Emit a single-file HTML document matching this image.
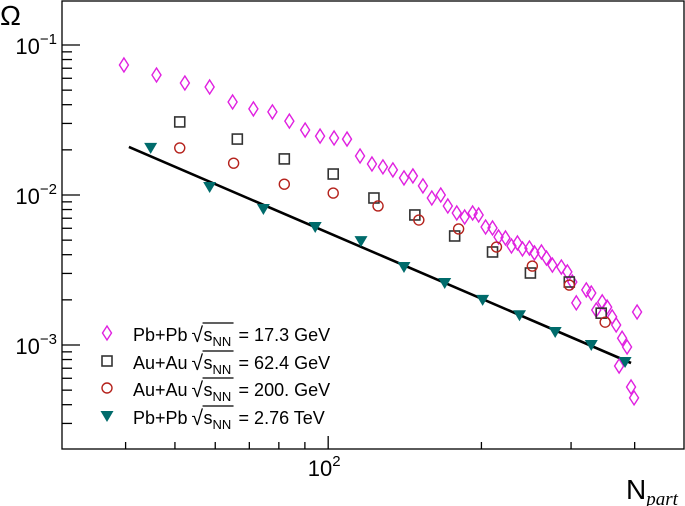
<!DOCTYPE html>
<html><head><meta charset="utf-8"><style>
html,body{margin:0;padding:0;background:#fff;}
svg{display:block;font-family:"Liberation Sans",sans-serif;}
</style></head><body>
<svg id="chart" width="685" height="506" viewBox="0 0 685 506">
<rect x="62" y="1" width="622" height="448" fill="none" stroke="#000" stroke-width="1.3"/>
<g id="axes"></g>
<g id="series"></g>
<text x="0" y="25" font-size="28">Ω</text>
<text x="626" y="499" font-size="28">N<tspan font-family="Liberation Serif" font-style="italic" font-size="19" dy="6">part</tspan></text>
<g id="legend"></g>
</svg>
<script>
const diamondN=[39.7,46.0,52.3,58.5,64.9,71.3,77.7,83.9,90.1,96.4,102.7,108.9,115.5,121.9,128.1,134.0,140.9,146.7,153.5,159.8,166.4,171.8,178.9,185.4,192.2,197.5,203.8,210.3,216.1,223.0,229.1,235.4,240.8,248.5,254.2,262.4,268.4,275.7,287.1,295.0,301.7,307.2,321.4,328.7,336.2,345.4,353.2,361.3,367.9,372.8,377.9,386.5,393.5,398.9,404.4];
const diamondOmega=[0.0736,0.0631,0.0558,0.0525,0.0417,0.0375,0.0358,0.0311,0.0271,0.0247,0.0240,0.0236,0.0182,0.0161,0.0154,0.0147,0.0130,0.0134,0.0115,0.00955,0.0100,0.00845,0.00759,0.00714,0.00759,0.00736,0.00612,0.00603,0.00525,0.00517,0.00457,0.00479,0.00437,0.00443,0.00411,0.00417,0.00380,0.00341,0.00331,0.00307,0.00263,0.00191,0.00233,0.00222,0.00171,0.00194,0.00179,0.00154,0.00136,0.000724,0.00111,0.00097,0.000525,0.000444,0.00166];
const squareN=[51.1,66.3,82.0,102.3,123.0,148.0,177.2,210.3,249.6,297.6,343.8];
const squareOmega=[0.0307,0.0236,0.0174,0.0138,0.00955,0.00736,0.00533,0.00417,0.00302,0.00263,0.00163];
const circleN=[51.1,65.2,82.0,102.3,125.3,150.7,180.4,214.1,251.8,297.6,350.0];
const circleOmega=[0.0206,0.0163,0.0118,0.0103,0.00845,0.00681,0.00594,0.00450,0.00336,0.00251,0.00142];
const triangleN=[44.8,58.5,74.6,94.3,116.0,140.9,169.4,201.1,237.6,279.2,328.7,383.0];
const triangleOmega=[0.0206,0.0113,0.00806,0.00612,0.00493,0.00331,0.00259,0.00200,0.00158,0.00122,0.00100,0.000770];
const fitRange=[40.6,393.5];
const fitNorm=0.0209, fitRef=40.6, fitSlope=-1.46;
const yMajorTicks=[1e-3,1e-2,1e-1];
const yMajorLabels=["−3","−2","−1"];
const xMinorTicks=[40,50,60,70,80,90,200,300,400];
const xMajorTicks=[100];
const legendLabels=["Pb+Pb","Au+Au","Au+Au","Pb+Pb"];
const legendValues=["= 17.3 GeV","= 62.4 GeV","= 200. GeV","= 2.76 TeV"];

const NS="http://www.w3.org/2000/svg";
const X0=62,X1=684,Y0=1,Y1=449;
const xMin=30,xMax=500;
const yTop=Math.pow(10,-1+44/150), yBot=Math.pow(10,-1-404/150);
function xs(n){return X0+(Math.log10(n)-Math.log10(xMin))/(Math.log10(xMax)-Math.log10(xMin))*(X1-X0);}
function ys(v){return Y0+(Math.log10(yTop)-Math.log10(v))/(Math.log10(yTop)-Math.log10(yBot))*(Y1-Y0);}
function mk(tag,attrs,parent){const e=document.createElementNS(NS,tag);for(const k in attrs)e.setAttribute(k,attrs[k]);parent.appendChild(e);return e;}
const axes=document.getElementById('axes'),series=document.getElementById('series'),legend=document.getElementById('legend');

for(let d=-4;d<=-1;d++){for(let m=1;m<=9;m++){const v=m*Math.pow(10,d);if(v<yBot||v>yTop)continue;const y=ys(v);const len=m===1?18:10;
const t=mk('line',{x1:X0,x2:X0+len,y1:y,y2:y,stroke:'#000','stroke-width':1.3},axes);

}}
yMajorTicks.forEach((v,i)=>{const t=mk('text',{x:57,y:ys(v)+9,'text-anchor':'end','font-size':22},axes);
t.innerHTML='10<tspan font-size="15" dy="-10">'+yMajorLabels[i]+'</tspan>';

});
xMinorTicks.forEach(n=>{const t=mk('line',{x1:xs(n),x2:xs(n),y1:Y1,y2:Y1-7,stroke:'#000','stroke-width':1.3},axes);

});
xMajorTicks.forEach(n=>{const t=mk('line',{x1:xs(n),x2:xs(n),y1:Y1,y2:Y1-13,stroke:'#000','stroke-width':1.3},axes);


const l=mk('text',{x:xs(n)-4,y:476,'text-anchor':'middle','font-size':22},axes);
l.innerHTML='10<tspan font-size="15" dy="-10">2</tspan>';

});

const fit=mk('line',{x1:xs(fitRange[0]),y1:ys(fitNorm*Math.pow(fitRange[0]/fitRef,fitSlope)),x2:xs(fitRange[1]),y2:ys(fitNorm*Math.pow(fitRange[1]/fitRef,fitSlope)),stroke:'#000','stroke-width':2.6},series);



function diamond(cx,cy,p){return mk('path',{d:`M${cx},${cy-7}L${cx+4.5},${cy}L${cx},${cy+7}L${cx-4.5},${cy}Z`,fill:'none',stroke:'#e020e0','stroke-width':1.4},p);}
function square(cx,cy,p){return mk('rect',{x:cx-5,y:cy-5,width:10,height:10,fill:'none',stroke:'#333','stroke-width':1.6},p);}
function circle(cx,cy,p){return mk('circle',{cx:cx,cy:cy,r:5,fill:'none',stroke:'#b5221c','stroke-width':1.4},p);}
function tri(cx,cy,p){return mk('path',{d:`M${cx-6.5},${cy-5}L${cx+6.5},${cy-5}L${cx},${cy+6}Z`,fill:'#006b6b'},p);}

diamondN.forEach((n,i)=>{const e=diamond(xs(n),ys(diamondOmega[i]),series);

});
squareN.forEach((n,i)=>{const e=square(xs(n),ys(squareOmega[i]),series);

});
circleN.forEach((n,i)=>{const e=circle(xs(n),ys(circleOmega[i]),series);

});
triangleN.forEach((n,i)=>{const e=tri(xs(n),ys(triangleOmega[i]),series);

});

const markers=[diamond,square,circle,tri];
const rowY=[334,362,389,417];
legendLabels.forEach((lab,i)=>{const g=mk('g',{},legend);


markers[i](107,rowY[i]-1,g);
const t=mk('text',{x:133,y:rowY[i]+7,'font-size':18},g);
t.textContent=lab;
const w=t.getComputedTextLength();
const sx=133+w+4;
mk('text',{x:sx,y:rowY[i]+8,'font-size':21},g).textContent='√';
mk('line',{x1:sx+11,x2:sx+42,y1:rowY[i]-11,y2:rowY[i]-11,stroke:'#000','stroke-width':1.2},g);
const s=mk('text',{x:sx+12,y:rowY[i]+7,'font-size':18},g);
s.innerHTML='s<tspan font-size="13" dy="5">NN</tspan>';
mk('text',{x:sx+47,y:rowY[i]+7,'font-size':18},g).textContent=legendValues[i];
});
</script>
</body></html>
